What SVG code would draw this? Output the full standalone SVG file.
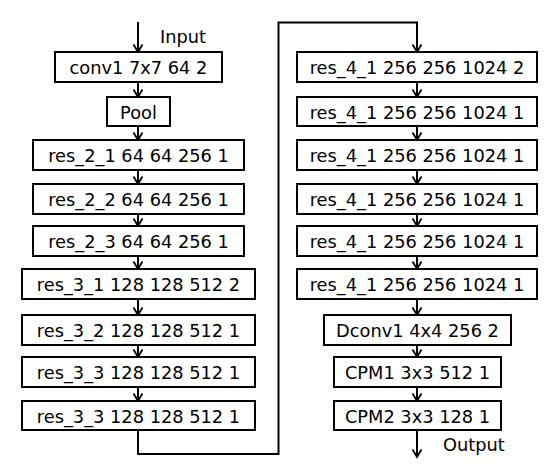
<svg xmlns="http://www.w3.org/2000/svg" width="550" height="470" viewBox="0 0 550 470">
<style>
.box{fill:#fff;stroke:#000;stroke-width:2}
.t{font-family:"DejaVu Sans",sans-serif;font-size:17.8px;fill:#000;text-anchor:middle}
.lbl{font-family:"DejaVu Sans",sans-serif;font-size:17.8px;fill:#000}
.c{fill:none;stroke:#000;stroke-width:2}
</style>
<defs>
<marker id="ah" markerUnits="userSpaceOnUse" markerWidth="12" markerHeight="12" refX="10" refY="6" orient="auto" overflow="visible">
<path d="M2.5,1.5 L10,6 L2.5,10.5" fill="none" stroke="#000" stroke-width="1.8"/>
</marker>
</defs>
<rect width="550" height="470" fill="#fff"/>
<g id="connectors">
<line class="c" x1="138" y1="22" x2="138" y2="52" marker-end="url(#ah)"/>
<line class="c" x1="138" y1="82" x2="138" y2="97" marker-end="url(#ah)"/>
<line class="c" x1="138" y1="126" x2="138" y2="140" marker-end="url(#ah)"/>
<line class="c" x1="138" y1="170" x2="138" y2="184" marker-end="url(#ah)"/>
<line class="c" x1="138" y1="214" x2="138" y2="226" marker-end="url(#ah)"/>
<line class="c" x1="138" y1="256" x2="138" y2="269" marker-end="url(#ah)"/>
<line class="c" x1="138" y1="299" x2="138" y2="315" marker-end="url(#ah)"/>
<line class="c" x1="138" y1="345" x2="138" y2="357" marker-end="url(#ah)"/>
<line class="c" x1="138" y1="387" x2="138" y2="401" marker-end="url(#ah)"/>
<polyline class="c" points="138,430 138,454 278.5,454 278.5,22.5 417,22.5 417,52" marker-end="url(#ah)"/>
<line class="c" x1="417" y1="82" x2="417" y2="97" marker-end="url(#ah)"/>
<line class="c" x1="417" y1="126" x2="417" y2="140" marker-end="url(#ah)"/>
<line class="c" x1="417" y1="170" x2="417" y2="184" marker-end="url(#ah)"/>
<line class="c" x1="417" y1="214" x2="417" y2="226" marker-end="url(#ah)"/>
<line class="c" x1="417" y1="256" x2="417" y2="269" marker-end="url(#ah)"/>
<line class="c" x1="417" y1="299" x2="417" y2="315" marker-end="url(#ah)"/>
<line class="c" x1="417" y1="345" x2="417" y2="357" marker-end="url(#ah)"/>
<line class="c" x1="417" y1="387" x2="417" y2="401" marker-end="url(#ah)"/>
<line class="c" x1="417" y1="430" x2="417" y2="457" marker-end="url(#ah)"/>
<text class="lbl" x="160" y="43">Input</text>
<text class="lbl" x="443" y="451">Output</text>
</g>
<g id="conv1"><rect class="box" x="55" y="52" width="167" height="30"/><text class="t" x="138.5" y="74">conv1 7x7 64 2</text></g>
<g id="pool"><rect class="box" x="107" y="97" width="63" height="29"/><text class="t" x="138.5" y="118.5">Pool</text></g>
<g id="res_2_1"><rect class="box" x="33" y="140" width="211" height="30"/><text class="t" x="138.5" y="162">res_2_1 64 64 256 1</text></g>
<g id="res_2_2"><rect class="box" x="33" y="184" width="211" height="30"/><text class="t" x="138.5" y="206">res_2_2 64 64 256 1</text></g>
<g id="res_2_3"><rect class="box" x="33" y="226" width="211" height="30"/><text class="t" x="138.5" y="248">res_2_3 64 64 256 1</text></g>
<g id="res_3_1"><rect class="box" x="22" y="269" width="233" height="30"/><text class="t" x="138.5" y="291">res_3_1 128 128 512 2</text></g>
<g id="res_3_2"><rect class="box" x="22" y="315" width="233" height="30"/><text class="t" x="138.5" y="337">res_3_2 128 128 512 1</text></g>
<g id="res_3_3a"><rect class="box" x="22" y="357" width="233" height="30"/><text class="t" x="138.5" y="379">res_3_3 128 128 512 1</text></g>
<g id="res_3_3b"><rect class="box" x="22" y="401" width="233" height="29"/><text class="t" x="138.5" y="422.5">res_3_3 128 128 512 1</text></g>
<g id="res_4_1a"><rect class="box" x="297" y="52" width="240" height="30"/><text class="t" x="417" y="74">res_4_1 256 256 1024 2</text></g>
<g id="res_4_1b"><rect class="box" x="297" y="97" width="240" height="29"/><text class="t" x="417" y="118.5">res_4_1 256 256 1024 1</text></g>
<g id="res_4_1c"><rect class="box" x="297" y="140" width="240" height="30"/><text class="t" x="417" y="162">res_4_1 256 256 1024 1</text></g>
<g id="res_4_1d"><rect class="box" x="297" y="184" width="240" height="30"/><text class="t" x="417" y="206">res_4_1 256 256 1024 1</text></g>
<g id="res_4_1e"><rect class="box" x="297" y="226" width="240" height="30"/><text class="t" x="417" y="248">res_4_1 256 256 1024 1</text></g>
<g id="res_4_1f"><rect class="box" x="297" y="269" width="240" height="30"/><text class="t" x="417" y="291">res_4_1 256 256 1024 1</text></g>
<g id="dconv1"><rect class="box" x="324" y="315" width="187" height="30"/><text class="t" x="417.5" y="337">Dconv1 4x4 256 2</text></g>
<g id="cpm1"><rect class="box" x="334" y="357" width="167" height="30"/><text class="t" x="417.5" y="379">CPM1 3x3 512 1</text></g>
<g id="cpm2"><rect class="box" x="334" y="401" width="167" height="29"/><text class="t" x="417.5" y="422.5">CPM2 3x3 128 1</text></g>
</svg>
